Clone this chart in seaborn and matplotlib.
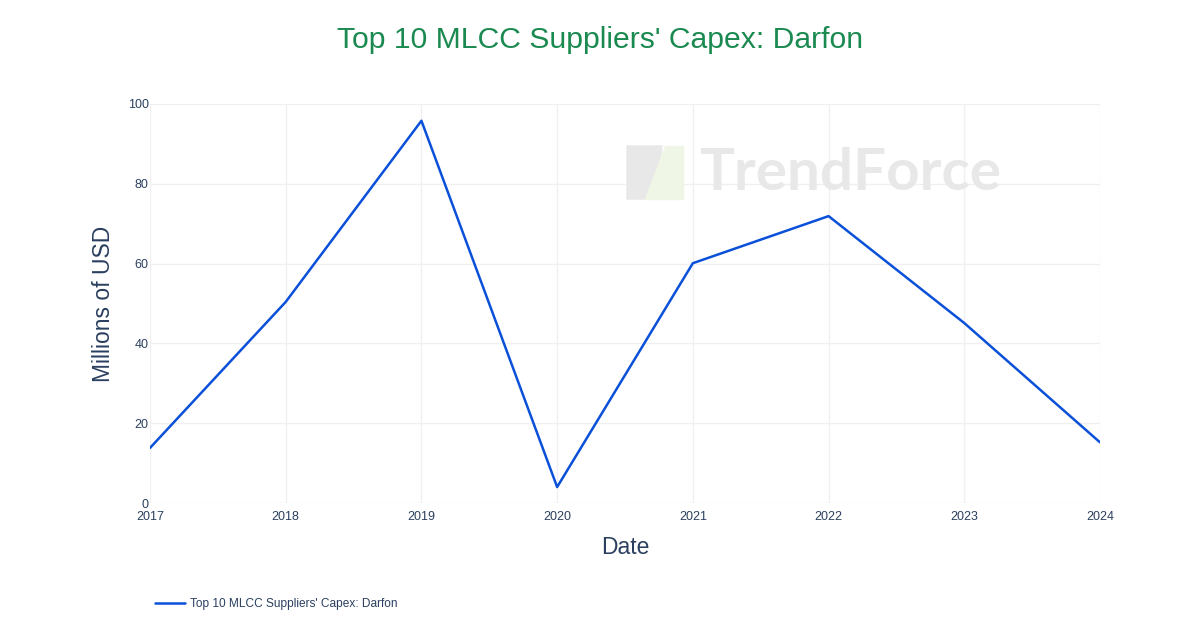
import matplotlib
matplotlib.use("Agg")
import matplotlib.pyplot as plt
import matplotlib.patches as mpatches
import seaborn as sns
import pandas as pd

years = [2017, 2018, 2019, 2020, 2021, 2022, 2023, 2024]
capex = [13.8, 50.4, 95.8, 4.0, 60.1, 71.9, 45.1, 15.2]
series_name = "Top 10 MLCC Suppliers' Capex: Darfon"
y_ticks = [0, 20, 40, 60, 80, 100]

sns.set_theme(style="white")
plt.rcParams['font.family'] = ['Liberation Sans', 'DejaVu Sans']

df = pd.DataFrame({"Date": years, "Value": capex})

fig = plt.figure(figsize=(12, 6.3), dpi=100)
ax = fig.add_axes([150/1200, 1-503/630, 950/1200, 399/630])

# watermark
fig.text(850/1200, 1-174/630, "TrendForce", fontsize=42, fontweight='bold',
         color='#e8e8e8', ha='center', va='center', family=['Lato', 'DejaVu Sans'], zorder=0)
logo1 = mpatches.Polygon([[627/1200, 1-146/630], [662/1200, 1-146/630], [655/1200, 1-199/630], [627/1200, 1-199/630]],
                         closed=True, transform=fig.transFigure, color='#e8e8e8', zorder=0)
logo2 = mpatches.Polygon([[665/1200, 1-146/630], [683/1200, 1-146/630], [683/1200, 1-199/630], [645/1200, 1-199/630]],
                         closed=True, transform=fig.transFigure, color='#f0f6e6', zorder=0)
fig.patches.extend([logo1, logo2])
ax.set_facecolor('none')

sns.lineplot(data=df, x="Date", y="Value", ax=ax, color='#0a50d8', linewidth=1.8,
             label=series_name, legend=False)

ax.set_xlim(2017, 2024)
ax.set_ylim(0, 100)
ax.set_xticks(years)
ax.set_xticklabels([str(y) for y in years])
ax.set_yticks(y_ticks)
ax.grid(True, color='#f0f0f3', linewidth=1)
for s in ax.spines.values():
    s.set_visible(False)
ax.tick_params(axis='both', length=0, labelsize=9, colors='#2a3f5f')
ax.tick_params(axis='x', pad=6)
ax.tick_params(axis='y', pad=1)
ax.set_xlabel("Date", fontsize=16.5, color='#2a3f5f', labelpad=9)
ax.set_ylabel("Millions of USD", fontsize=16.5, color='#2a3f5f', labelpad=9)

fig.text(0.5, 1-40/630, series_name, fontsize=21.7, color='#1a8a50', ha='center', va='center')

# legend
fig.lines.append(plt.Line2D([155/1200, 185/1200], [1-603/630, 1-603/630], color='#0a50d8',
                            linewidth=1.8, transform=fig.transFigure))
fig.text(190/1200, 1-604/630, series_name, fontsize=8.6, color='#2a3f5f', ha='left', va='center')

fig.savefig("out.png", dpi=100)
